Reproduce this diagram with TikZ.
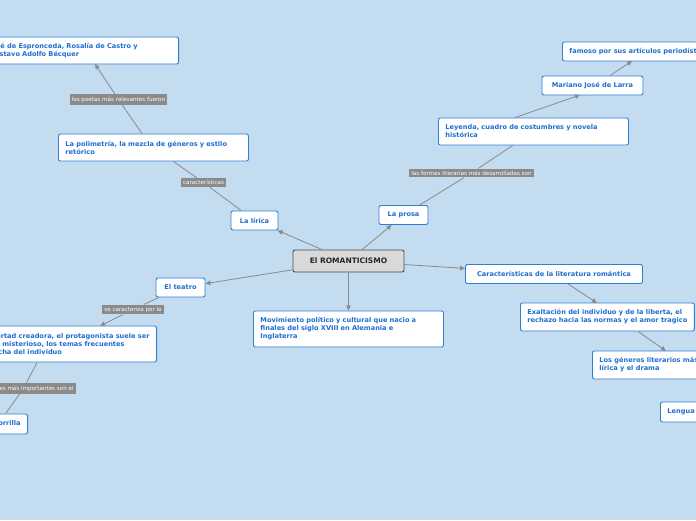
\documentclass[tikz,border=0pt]{standalone}
\usepackage{fontspec}
\setmainfont{DejaVu Sans}
\usetikzlibrary{arrows.meta}
\definecolor{bg}{HTML}{C3DCF0}
\definecolor{tb}{HTML}{1E6FD0}
\definecolor{bd}{HTML}{2F7FD8}
\definecolor{ln}{HTML}{8A8A8A}
\tikzset{
 box/.style={draw=bd,line width=0.9pt,fill=white,rounded corners=2pt,text=tb,font=\fontsize{6.6}{8}\selectfont\bfseries,align=left,inner xsep=7pt,inner ysep=4pt},
 lab/.style={fill=ln,text=white,font=\fontsize{5.6}{6.5}\selectfont,inner sep=2.2pt},
 con/.style={draw=ln,line width=0.8pt},
 arr/.style={con,-{Triangle[length=5pt,width=4.5pt]}}
}
\begin{document}
\begin{tikzpicture}[x=1pt,y=-1pt]
\fill[bg] (0,0) rectangle (696,520);
\useasboundingbox (0,0) rectangle (696,520);
\clip (0,0) rectangle (696,520);
\node[box,draw=black!70,fill=gray!30,text=black!85,font=\fontsize{7.5}{8}\selectfont\bfseries,minimum width=111,minimum height=22] (c) at (348.5,261) {El ROMANTICISMO};
\node[box,minimum height=19,minimum width=47] (lir) at (254.5,220.5) {La lírica};
\node[box,anchor=west,minimum height=27,text width=176] (pol) at (58,147.5) {La polimetría, la mezcla de géneros y estilo\\retórico};
\node[box,anchor=east,minimum height=27,text width=182] (esp) at (179,50.5) {José de Espronceda, Rosalía de Castro y\\Gustavo Adolfo Bécquer};
\node[lab] (l1) at (118.5,99.5) {los poetas más relevantes fueron};
\node[lab] (l2) at (203.5,182.5) {características};
\node[box,minimum height=19,minimum width=49] (pro) at (403.5,215) {La prosa};
\node[lab] (l3) at (471.5,173) {las formas literarias más desarrolladas son};
\node[box,anchor=west,minimum height=27,text width=176] (ley) at (438,131.5) {Leyenda, cuadro de costumbres y novela\\histórica};
\node[box,minimum height=19,minimum width=101] (mar) at (592.5,85.5) {Mariano José de Larra};
\node[box,anchor=west,minimum height=19] (fam) at (562,51.5) {famoso por sus artículos periodísticos};
\node[box,anchor=west,minimum height=19,minimum width=177] (car) at (465,274) {Características de la literatura romántica};
\node[box,anchor=west,minimum height=28] (exa) at (520,317) {Exaltación del individuo y de la liberta, el\\rechazo hacia las normas y el amor tragico};
\node[box,anchor=west,minimum height=28] (gen) at (592,365) {Los géneros literarios más importantes son la\\lírica y el drama};
\node[box,anchor=west,minimum height=20] (len) at (660,412) {Lengua y literatura};
\node[box,anchor=west,minimum height=36,text width=176] (mov) at (253,329) {Movimiento político y cultural que nacio a\\finales del siglo XVIII en Alemania e\\Inglaterra};
\node[box,minimum height=19,minimum width=49] (tea) at (180.5,287.5) {El teatro};
\node[lab] (l4) at (133,309.5) {se caracteriza por la};
\node[box,anchor=east,minimum height=36] (tb) at (157,344) {Gran libertad creadora, el protagonista suele ser\\un héroe misterioso, los temas frecuentes\\son la lucha del individuo};
\node[lab,anchor=east] (l5) at (76,388.5) {Los autores más importantes son el};
\node[box,anchor=east,minimum height=20] (zor) at (28,424) {José Zorrilla};
\draw[arr] (c) -- (lir);
\draw[con] (lir) -- (l2); \draw[con] (l2) -- (pol);
\draw[con] (pol.north -| 142,0) -- (l1); \draw[arr] (l1) -- (95,64);
\draw[arr] (c) -- (pro);
\draw[con] (pro) -- (l3); \draw[con] (l3) -- (ley);
\draw[arr] (ley.north -| 515,0) -- (580,95);
\draw[arr] (mar.north -| 610,0) -- (632,61);
\draw[arr] (c) -- (car);
\draw[arr] (car.south -| 568,0) -- (597,303);
\draw[arr] (exa.south -| 638,0) -- (666,351);
\draw[arr] (c) -- (mov);
\draw[arr] (c) -- (tea);
\draw[con] (tea) -- (l4); \draw[arr] (l4) -- (100,326);
\draw[con] (tb.south -| 37,0) -- (l5); \draw[con] (l5) -- (zor);
\end{tikzpicture}
\end{document}
